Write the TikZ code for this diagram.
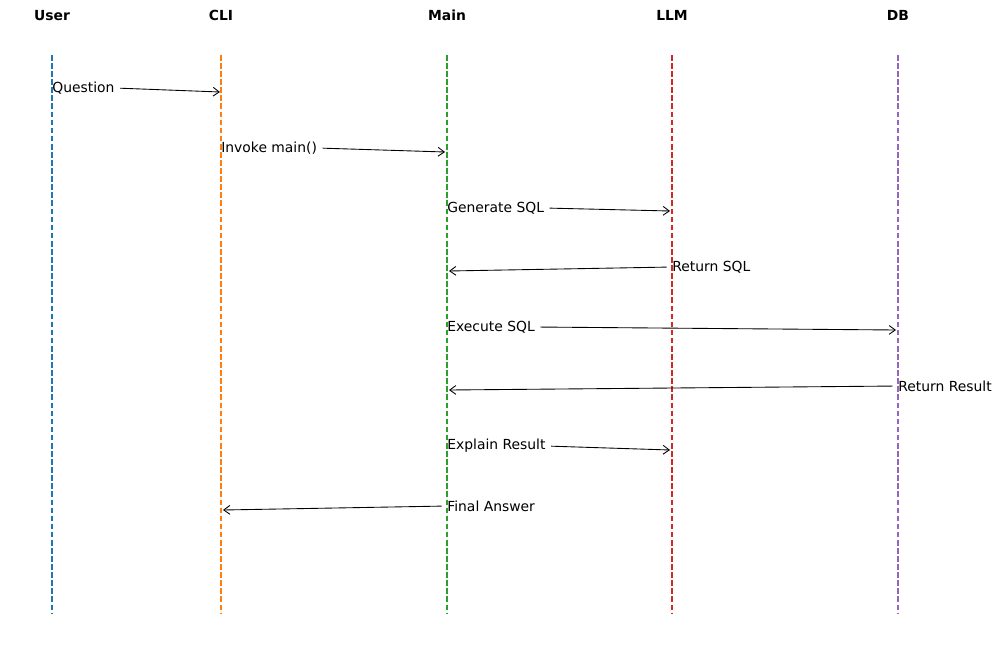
\documentclass[tikz,border=0pt]{standalone}
\usepackage{fontspec}
\setmainfont{DejaVu Sans}
\usetikzlibrary{arrows.meta}
\definecolor{c1}{HTML}{1F77B4}\definecolor{c2}{HTML}{FF7F0E}\definecolor{c3}{HTML}{2CA02C}\definecolor{c4}{HTML}{D62728}\definecolor{c5}{HTML}{9467BD}
\begin{document}
\begin{tikzpicture}[x=0.02cm,y=-0.02cm,
  hd/.style={font=\fontsize{7.9}{9}\selectfont\bfseries,inner sep=0,anchor=base},
  life/.style={dashed,dash pattern=on 3.2pt off 1.4pt,line width=0.8pt},
  lbl/.style={font=\fontsize{7.9}{9}\selectfont,inner sep=0,anchor=west},
  rl/.style={font=\fontsize{7.9}{9}\selectfont,inner sep=0,anchor=west},
  msg/.style={-{Straight Barb[length=3.5pt,width=5pt,line width=0.5pt]},line width=0.5pt,shorten <=3pt}]
\useasboundingbox (0,0) rectangle (1000,652);
\foreach \n/\x/\c/\t in {u/52/c1/User,c/221/c2/CLI,m/447/c3/Main,l/672/c4/LLM,d/898/c5/DB}{
  \node[hd] (h\n) at (\x,21) {\t};
  \coordinate (t\n) at (\x,55); \coordinate (b\n) at (\x,613);
  \draw[life,\c] (t\n) -- (b\n);
}
\node[lbl] (q) at (52,88) {Question}; \coordinate (qe) at (220,92);
\draw[msg] (q.east) -- (qe);
\node[lbl] (im) at (221,148) {Invoke main()}; \coordinate (ime) at (445,152);
\draw[msg] (im.east) -- (ime);
\node[lbl] (gs) at (447,208) {Generate SQL}; \coordinate (gse) at (670,211);
\draw[msg] (gs.east) -- (gse);
\node[rl] (rs) at (672,267) {Return SQL}; \coordinate (rse) at (449,271);
\draw[msg] (rs.west) -- (rse);
\node[lbl] (es) at (447,327) {Execute SQL}; \coordinate (ese) at (896,330);
\draw[msg] (es.east) -- (ese);
\node[rl] (rr) at (898,386) {Return Result}; \coordinate (rre) at (449,390);
\draw[msg] (rr.west) -- (rre);
\node[lbl] (er) at (447,446) {Explain Result}; \coordinate (ere) at (670,450);
\draw[msg] (er.east) -- (ere);
\node[rl] (fa) at (447,506) {Final Answer}; \coordinate (fae) at (223,510);
\draw[msg] (fa.west) -- (fae);
\end{tikzpicture}
\end{document}
